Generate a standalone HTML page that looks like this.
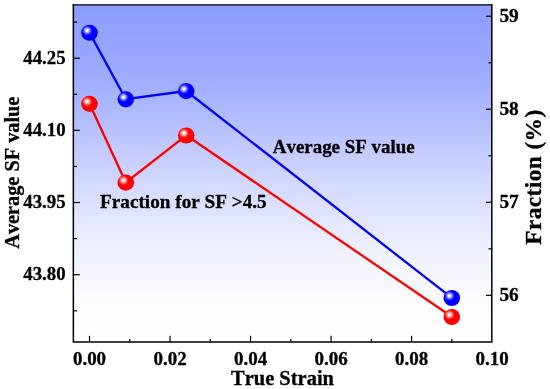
<!DOCTYPE html>
<html><head><meta charset="utf-8"><title>chart</title>
<style>
html,body{margin:0;padding:0;background:#fff;}
body{width:550px;height:389px;overflow:hidden;position:relative;}
svg{position:absolute;left:0;top:0;display:block;}
text{font-family:"Liberation Serif","DejaVu Serif",serif;font-weight:bold;fill:#000;stroke:#000;stroke-width:0.3px;font-kerning:none;}
</style></head><body>
<svg width="550" height="389" viewBox="0 0 550 389">
<defs>
<linearGradient id="bg" x1="0" y1="0" x2="0" y2="1">
<stop offset="0" stop-color="#8c9bff"/>
<stop offset="0.143" stop-color="#99a6ff"/>
<stop offset="0.226" stop-color="#a1adff"/>
<stop offset="0.29" stop-color="#aab6ff"/>
<stop offset="0.43" stop-color="#c3cbff"/>
<stop offset="0.576" stop-color="#dadfff"/>
<stop offset="0.736" stop-color="#f0f2ff"/>
<stop offset="0.878" stop-color="#fcfcff"/>
<stop offset="1" stop-color="#ffffff"/>
</linearGradient>
<radialGradient id="gb" cx="0.36" cy="0.36" r="0.32" fx="0.36" fy="0.36">
<stop offset="0" stop-color="#ffffff"/>
<stop offset="0.18" stop-color="#f4f4ff"/>
<stop offset="0.5" stop-color="#8c8cff"/>
<stop offset="0.8" stop-color="#2424ff"/>
<stop offset="1" stop-color="#0000ff"/>
</radialGradient>
<radialGradient id="gr" cx="0.36" cy="0.36" r="0.32" fx="0.36" fy="0.36">
<stop offset="0" stop-color="#ffffff"/>
<stop offset="0.18" stop-color="#fff4f4"/>
<stop offset="0.5" stop-color="#ff8c8c"/>
<stop offset="0.8" stop-color="#ff2424"/>
<stop offset="1" stop-color="#ff0000"/>
</radialGradient>
</defs>
<rect x="73.35" y="4.75" width="418.45000000000005" height="337.35" fill="url(#bg)"/>

<g stroke="#000" stroke-width="1.5" fill="none" stroke-linecap="square">
<path d="M73.35,4.75 V342.1 H491.8 V4.75"/>
<path d="M73.35,4.75 H491.8" stroke-width="1.25"/>
</g>
<g stroke="#000" stroke-width="1.2" fill="none">
<line x1="89.50" y1="342.1" x2="89.50" y2="335.8"/>
<line x1="129.76" y1="342.1" x2="129.76" y2="338.90000000000003"/>
<line x1="170.02" y1="342.1" x2="170.02" y2="335.8"/>
<line x1="210.28" y1="342.1" x2="210.28" y2="338.90000000000003"/>
<line x1="250.54" y1="342.1" x2="250.54" y2="335.8"/>
<line x1="290.80" y1="342.1" x2="290.80" y2="338.90000000000003"/>
<line x1="331.06" y1="342.1" x2="331.06" y2="335.8"/>
<line x1="371.32" y1="342.1" x2="371.32" y2="338.90000000000003"/>
<line x1="411.58" y1="342.1" x2="411.58" y2="335.8"/>
<line x1="451.84" y1="342.1" x2="451.84" y2="338.90000000000003"/>
<line x1="73.35" y1="22.12" x2="77.14999999999999" y2="22.12"/>
<line x1="73.35" y1="58.20" x2="79.85" y2="58.20"/>
<line x1="73.35" y1="94.28" x2="77.14999999999999" y2="94.28"/>
<line x1="73.35" y1="130.36" x2="79.85" y2="130.36"/>
<line x1="73.35" y1="166.44" x2="77.14999999999999" y2="166.44"/>
<line x1="73.35" y1="202.52" x2="79.85" y2="202.52"/>
<line x1="73.35" y1="238.60" x2="77.14999999999999" y2="238.60"/>
<line x1="73.35" y1="274.68" x2="79.85" y2="274.68"/>
<line x1="73.35" y1="310.76" x2="77.14999999999999" y2="310.76"/>
<line x1="491.8" y1="16.20" x2="486.00" y2="16.20"/>
<line x1="491.8" y1="62.72" x2="488.50" y2="62.72"/>
<line x1="491.8" y1="109.24" x2="486.00" y2="109.24"/>
<line x1="491.8" y1="155.76" x2="488.50" y2="155.76"/>
<line x1="491.8" y1="202.28" x2="486.00" y2="202.28"/>
<line x1="491.8" y1="248.80" x2="488.50" y2="248.80"/>
<line x1="491.8" y1="295.32" x2="486.00" y2="295.32"/>
</g>
<polyline fill="none" stroke="#0000ff" stroke-width="2.3" stroke-linejoin="round" points="89.50,32.60 125.80,99.20 186.20,91.00 451.80,297.90"/>
<polyline fill="none" stroke="#ff0000" stroke-width="2.3" stroke-linejoin="round" points="89.50,103.70 125.80,182.50 186.20,135.30 451.80,316.80"/>
<ellipse cx="89.50" cy="32.75" rx="8.3" ry="8.05" fill="url(#gb)"/>
<ellipse cx="125.80" cy="99.35" rx="8.3" ry="8.05" fill="url(#gb)"/>
<ellipse cx="186.20" cy="91.15" rx="8.3" ry="8.05" fill="url(#gb)"/>
<ellipse cx="451.80" cy="298.05" rx="8.3" ry="8.05" fill="url(#gb)"/>
<ellipse cx="89.50" cy="103.85" rx="8.3" ry="8.05" fill="url(#gr)"/>
<ellipse cx="125.80" cy="182.65" rx="8.3" ry="8.05" fill="url(#gr)"/>
<ellipse cx="186.20" cy="135.45" rx="8.3" ry="8.05" fill="url(#gr)"/>
<ellipse cx="451.80" cy="316.95" rx="8.3" ry="8.05" fill="url(#gr)"/>
<text transform="translate(65.60,63.80) scale(1.01,1)" font-size="18.6" text-anchor="end">44.25</text>
<text transform="translate(65.60,135.96) scale(1.01,1)" font-size="18.6" text-anchor="end">44.10</text>
<text transform="translate(65.60,208.12) scale(1.01,1)" font-size="18.6" text-anchor="end">43.95</text>
<text transform="translate(65.60,280.28) scale(1.01,1)" font-size="18.6" text-anchor="end">43.80</text>
<text transform="translate(499.40,21.80) scale(1.045,1)" font-size="18.5">59</text>
<text transform="translate(499.40,114.84) scale(1.045,1)" font-size="18.5">58</text>
<text transform="translate(499.40,207.88) scale(1.045,1)" font-size="18.5">57</text>
<text transform="translate(499.40,300.92) scale(1.045,1)" font-size="18.5">56</text>
<text transform="translate(89.50,364.60) scale(1.025,1)" font-size="18.5" text-anchor="middle">0.00</text>
<text transform="translate(170.02,364.60) scale(1.025,1)" font-size="18.5" text-anchor="middle">0.02</text>
<text transform="translate(250.54,364.60) scale(1.025,1)" font-size="18.5" text-anchor="middle">0.04</text>
<text transform="translate(331.06,364.60) scale(1.025,1)" font-size="18.5" text-anchor="middle">0.06</text>
<text transform="translate(411.58,364.60) scale(1.025,1)" font-size="18.5" text-anchor="middle">0.08</text>
<text transform="translate(492.10,364.60) scale(1.025,1)" font-size="18.5" text-anchor="middle">0.10</text>
<text transform="translate(282.50,384.50) scale(0.985,1)" font-size="20.8" text-anchor="middle">True Strain</text>
<text transform="translate(18.80,172.70) rotate(-90) scale(1.015,1)" font-size="20.0" text-anchor="middle">Average SF value</text>
<text letter-spacing="0.4" transform="translate(540.60,177.10) rotate(-90)" font-size="23.4" text-anchor="middle">Fraction (%)</text>
<text transform="translate(272.80,153.30) scale(1.057,1)" font-size="17.9">Average SF value</text>
<text transform="translate(100.10,207.90) scale(1.049,1)" font-size="18.3">Fraction for SF &gt;4.5</text>
</svg></body></html>
